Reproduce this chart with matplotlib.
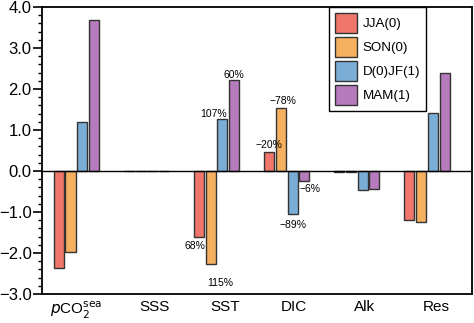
import numpy as np
import matplotlib.pyplot as plt

plt.rcParams['font.family'] = ['Liberation Sans', 'DejaVu Sans']

# driver contributions per season
drivers = ['$p$CO$_2^{\\mathrm{sea}}$', 'SSS', 'SST', 'DIC', 'Alk', 'Res']
seasons = ['JJA(0)', 'SON(0)', 'D(0)JF(1)', 'MAM(1)']
jja = [-2.36, 0.0, -1.61, 0.46, -0.02, -1.20]
son = [-1.98, 0.0, -2.28, 1.54, -0.02, -1.24]
djf = [1.19, 0.0, 1.27, -1.05, -0.47, 1.42]
mam = [3.68, 0.0, 2.21, -0.24, -0.43, 2.40]
colors = ['#f0766b', '#f5b060', '#7aaed6', '#b67bbd']

fig = plt.figure(figsize=(4.74, 3.23), dpi=100)
ax = fig.add_axes([0.0886, 0.0898, 0.907, 0.8885])

x = np.arange(len(drivers))
w = 0.143
step = 0.167
for i, (vals, c, lab) in enumerate(zip([jja, son, djf, mam], colors, seasons)):
    ax.bar(x + (i - 1.5) * step, vals, w, color=c, edgecolor='#333333',
           linewidth=1.0, label=lab, zorder=2)

ax.axhline(0, color='black', lw=1.0, zorder=3)

# percent labels for SST and DIC
fs = 7.5
ax.text(x[2] + 0.5 * step - 0.13, djf[2], '107%', ha='center', va='bottom', fontsize=fs)
ax.text(x[2] + 1.5 * step, mam[2] + 0.02, '60%', ha='center', va='bottom', fontsize=fs)
ax.text(x[2] - 1.5 * step - 0.06, jja[2] - 0.1, '68%', ha='center', va='top', fontsize=fs)
ax.text(x[2] - 0.5 * step + 0.13, son[2] - 0.32, '115%', ha='center', va='top', fontsize=fs)
ax.text(x[3] - 1.5 * step, jja[3] + 0.05, '\u221220%', ha='center', va='bottom', fontsize=fs)
ax.text(x[3] - 0.5 * step + 0.03, son[3] + 0.04, '\u221278%', ha='center', va='bottom', fontsize=fs)
ax.text(x[3] + 0.5 * step, djf[3] - 0.14, '\u221289%', ha='center', va='top', fontsize=fs)
ax.text(x[3] + 1.5 * step - 0.07, mam[3] - 0.08, '\u22126%', ha='left', va='top', fontsize=fs)

ax.set_xlim(-0.49, 5.64)
ax.set_ylim(-3.0, 4.0)
yt = np.arange(-3, 4.1, 1.0)
ax.set_yticks(yt)
ax.set_yticklabels(['%.1f' % v if v >= 0 else '\u2212%.1f' % -v for v in yt])
ax.set_yticks(np.arange(-3, 4.01, 0.2), minor=True)
# category labels sit slightly right of the bar groups
ax.set_xticks(x + np.array([0.0, 0.12, 0.12, 0.1, 0.11, 0.13]))
ax.set_xticklabels(drivers, fontsize=11)
ax.tick_params(axis='x', length=0, pad=4)
ax.tick_params(axis='y', which='major', length=6.5, width=1.2, labelsize=12, pad=1)
ax.tick_params(axis='y', which='minor', length=3, width=1.0)
for s in ax.spines.values():
    s.set_linewidth(1.3)

leg = ax.legend(loc='upper left', bbox_to_anchor=(0.667, 1.0), fontsize=9.6,
                frameon=True, fancybox=False, edgecolor='black', framealpha=1,
                handlelength=1.65, handleheight=1.93, labelspacing=0.3,
                borderpad=0.45, handletextpad=0.45, borderaxespad=0)
leg.get_frame().set_linewidth(1.0)

fig.savefig('out.png', dpi=100)
